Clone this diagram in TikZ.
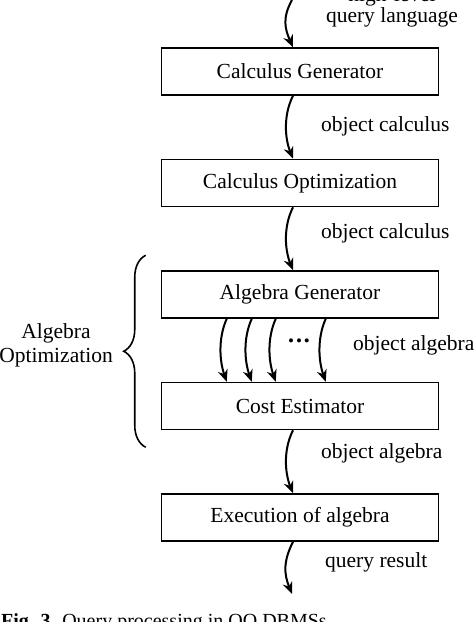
\documentclass[tikz,border=0pt]{standalone}
\usepackage{fontspec}
\setmainfont{Liberation Serif}
\usetikzlibrary{arrows.meta, positioning, decorations.pathreplacing}

\begin{document}
\begin{tikzpicture}[x=1pt, y=1pt, node distance=63pt,
  stage/.style={draw, line width=1.5pt, minimum width=277pt, minimum height=47pt,
    font=\fontsize{21.5}{24}\selectfont},
  lbl/.style={anchor=base west, inner sep=0pt, font=\fontsize{21.5}{24}\selectfont},
  flow/.style={-{Stealth[length=12pt, width=10pt]}, line width=2pt}]
  \useasboundingbox (0,0) rectangle (474,-622);

  % processing stages
  \node[stage] (cg) at (300,-71.5) {Calculus Generator};
  \node[stage, below=of cg] (co) {Calculus Optimization};
  \node[stage, below=of co] (ag) {Algebra Generator};
  \node[stage, below=of ag] (ce) {Cost Estimator};
  \node[stage, below=of ce] (ex) {Execution of algebra};

  % in and out
  \coordinate (qin) at (292,0);
  \coordinate (qout) at (292,-594);
  \node[align=center, inner sep=0pt, font=\fontsize{21.5}{18}\selectfont] (hl) at (392,-7)
    {high-level\\query language};

  \draw[flow] (qin) .. controls +(-10,-18) and +(-8,18) .. ([xshift=-7pt]cg.north);
  \draw[flow] ([xshift=-7pt]cg.south) .. controls +(-10,-20) and +(-8,20) .. ([xshift=-7pt]co.north);
  \draw[flow] ([xshift=-7pt]co.south) .. controls +(-10,-20) and +(-8,20) .. ([xshift=-7pt]ag.north);
  \draw[flow] ([xshift=-7pt]ce.south) .. controls +(-10,-20) and +(-8,20) .. ([xshift=-7pt]ex.north);
  \draw[flow] ([xshift=-7pt]ex.south) .. controls +(-10,-20) and +(-8,20) .. (qout);

  % several algebra plans
  \foreach \dx in {66,91,115,165}
    \draw[flow] ([xshift=\dx pt]ag.south west) .. controls +(-9,-20) and +(-7,20)
      .. ([xshift=\dx pt]ce.north west);
  \node[font=\fontsize{17}{20}\selectfont] (dots) at (299,-343)
    {\textbullet\hspace{2pt}\textbullet\hspace{2pt}\textbullet};

  % edge labels
  \node[lbl] (l1) at (321,-131) {object calculus};
  \node[lbl] (l2) at (321,-238) {object calculus};
  \node[lbl] (l3) at (353,-350) {object algebra};
  \node[lbl] (l4) at (321,-458) {object algebra};
  \node[lbl] (l5) at (325,-567) {query result};

  % brace
  \draw[line width=1.6pt, decorate, decoration={brace, amplitude=22pt}]
    ([xshift=-15pt, yshift=-17pt]ce.south west) -- ([xshift=-15pt, yshift=15pt]ag.north west);
  \node[align=center, inner sep=0pt, font=\fontsize{21.5}{24}\selectfont] (aopt) at (56,-345)
    {Algebra\\Optimization};

  % caption
  \node[lbl, font=\fontsize{20}{24}\selectfont] (cap) at (1,-627)
    {\textbf{Fig. 3.} Query processing in OO DBMSs};
\end{tikzpicture}
\end{document}
